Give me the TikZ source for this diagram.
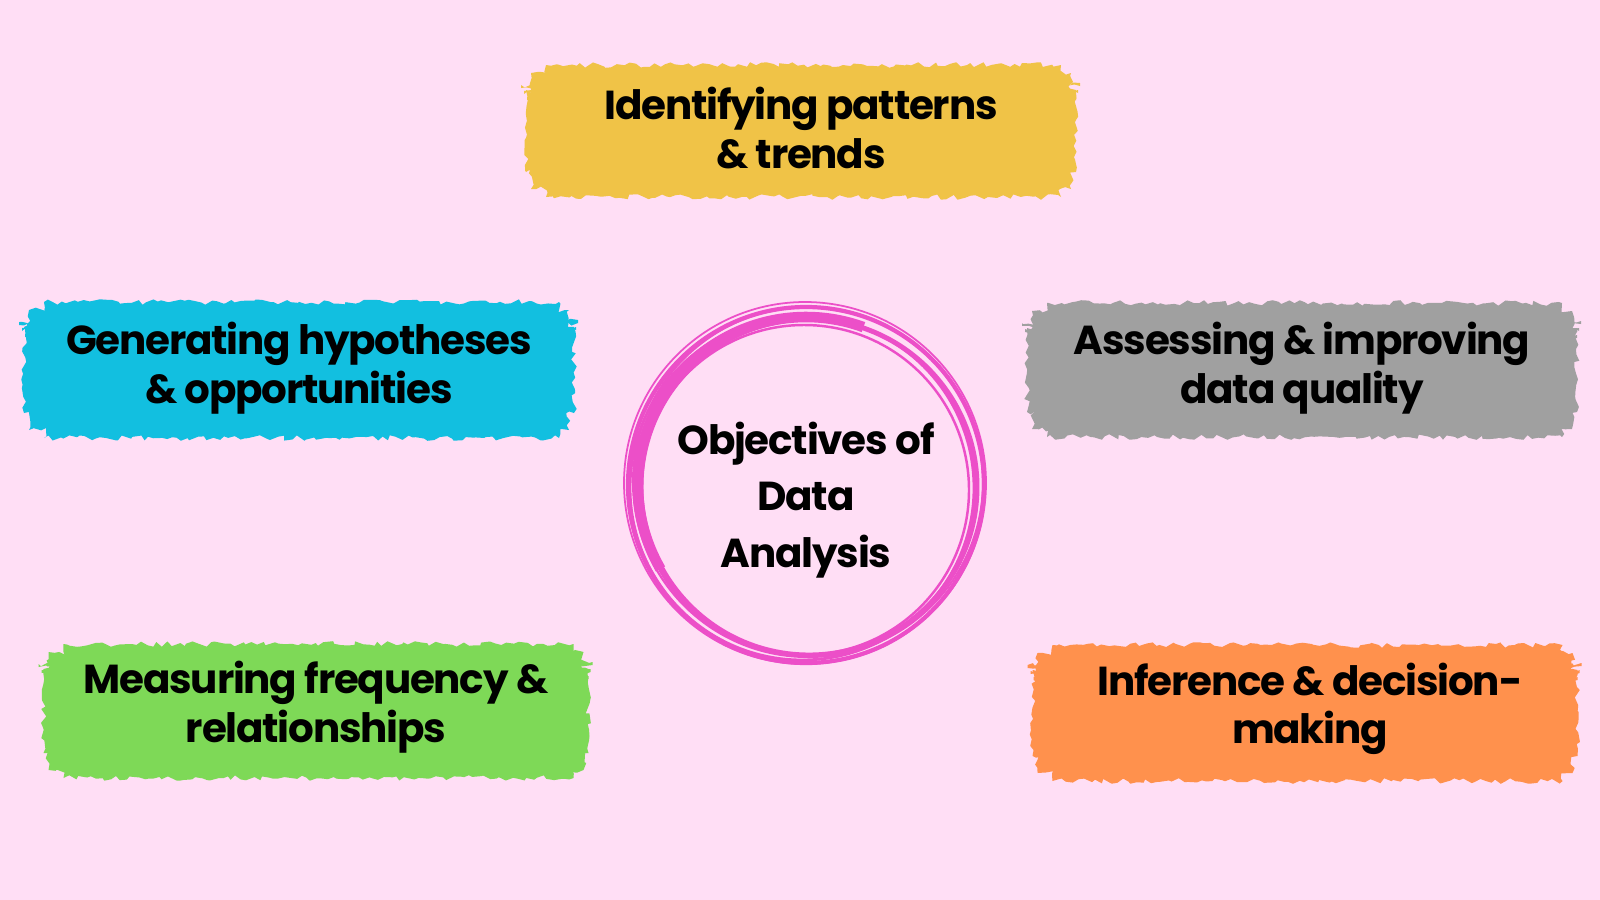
\documentclass[tikz,border=0pt]{standalone}
\usepackage{fontspec}
\setmainfont[LetterSpace=-3]{Poppins}
\usetikzlibrary{decorations.pathmorphing}
\definecolor{bg}{HTML}{FFDEF5}
\definecolor{cyel}{HTML}{F0C347}
\definecolor{ccya}{HTML}{12BFE0}
\definecolor{cgra}{HTML}{A0A0A0}
\definecolor{cgre}{HTML}{7ED957}
\definecolor{cora}{HTML}{FF914D}
\definecolor{cpink}{HTML}{EC4FC8}
\tikzset{
  brush/.style={decorate,decoration={random steps,segment length=1.5pt,amplitude=0.8pt}},
  lbl/.style={font=\bfseries\fontsize{11.5}{13.8}\selectfont,align=center,text=black},
}
\pgfmathsetseed{7}
\begin{document}
\begin{tikzpicture}[x=0.01cm,y=-0.01cm]
\fill[bg] (0,0) rectangle (1600,900);
\useasboundingbox (0,0) rectangle (1600,900);
\newcommand{\brushbox}[5]{%
  \fill[#5,brush] (#1-#3/2+5,#2-#4/2+8) rectangle (#1+#3/2-5,#2+#4/2-8);
  \fill[#5,brush] (#1-#3/2+20,#2-#4/2) rectangle (#1+#3/2-15,#2+#4/2);
  \fill[#5,brush] (#1-#3/2,#2-#4/2+25) rectangle (#1+#3/2,#2+#4/2-25);
  \foreach \k in {0,...,12}{\fill[#5,brush] (#1-#3/2-5+\k*3,#2-#4/2+20+\k*6) rectangle (#1-#3/2+30,#2-#4/2+23+\k*6);}
  \foreach \k in {0,...,12}{\fill[#5,brush] (#1+#3/2-30,#2-#4/2+18+\k*7) rectangle (#1+#3/2+4-\k*2,#2-#4/2+21+\k*7);}
}
\brushbox{801}{131}{550}{132}{cyel}
\brushbox{299}{370}{550}{136}{ccya}
\brushbox{1302}{370}{550}{134}{cgra}
\brushbox{316}{711}{545}{134}{cgre}
\brushbox{1305}{713}{545}{136}{cora}
\foreach \r/\w/\dx/\dy in {178/1.2/0/0, 172/0.8/-4/3, 168/1.4/3/2, 175/0.6/2/-3, 165/0.7/-2/5, 181/0.5/-1/-2}
  \draw[cpink,line width=\w pt] (806+\dx,485+\dy) circle (\r);
\draw[cpink,line width=3pt] (806,485) ++(150:168) arc (150:290:168);
\node[lbl] (t) at (801,128) {Identifying patterns\\\& trends};
\node[lbl] (l) at (299,368) {Generating hypotheses\\\& opportunities};
\node[lbl] (r) at (1302,368) {Assessing \& improving\\data quality};
\node[lbl] (bl) at (316,707) {Measuring frequency \&\\relationships};
\node[lbl] (br) at (1310,709) {Inference \& decision-\\making};
\node[lbl,font=\bfseries\fontsize{11.5}{16}\selectfont] (c) at (806,500) {Objectives of\\Data\\Analysis};
\end{tikzpicture}
\end{document}
